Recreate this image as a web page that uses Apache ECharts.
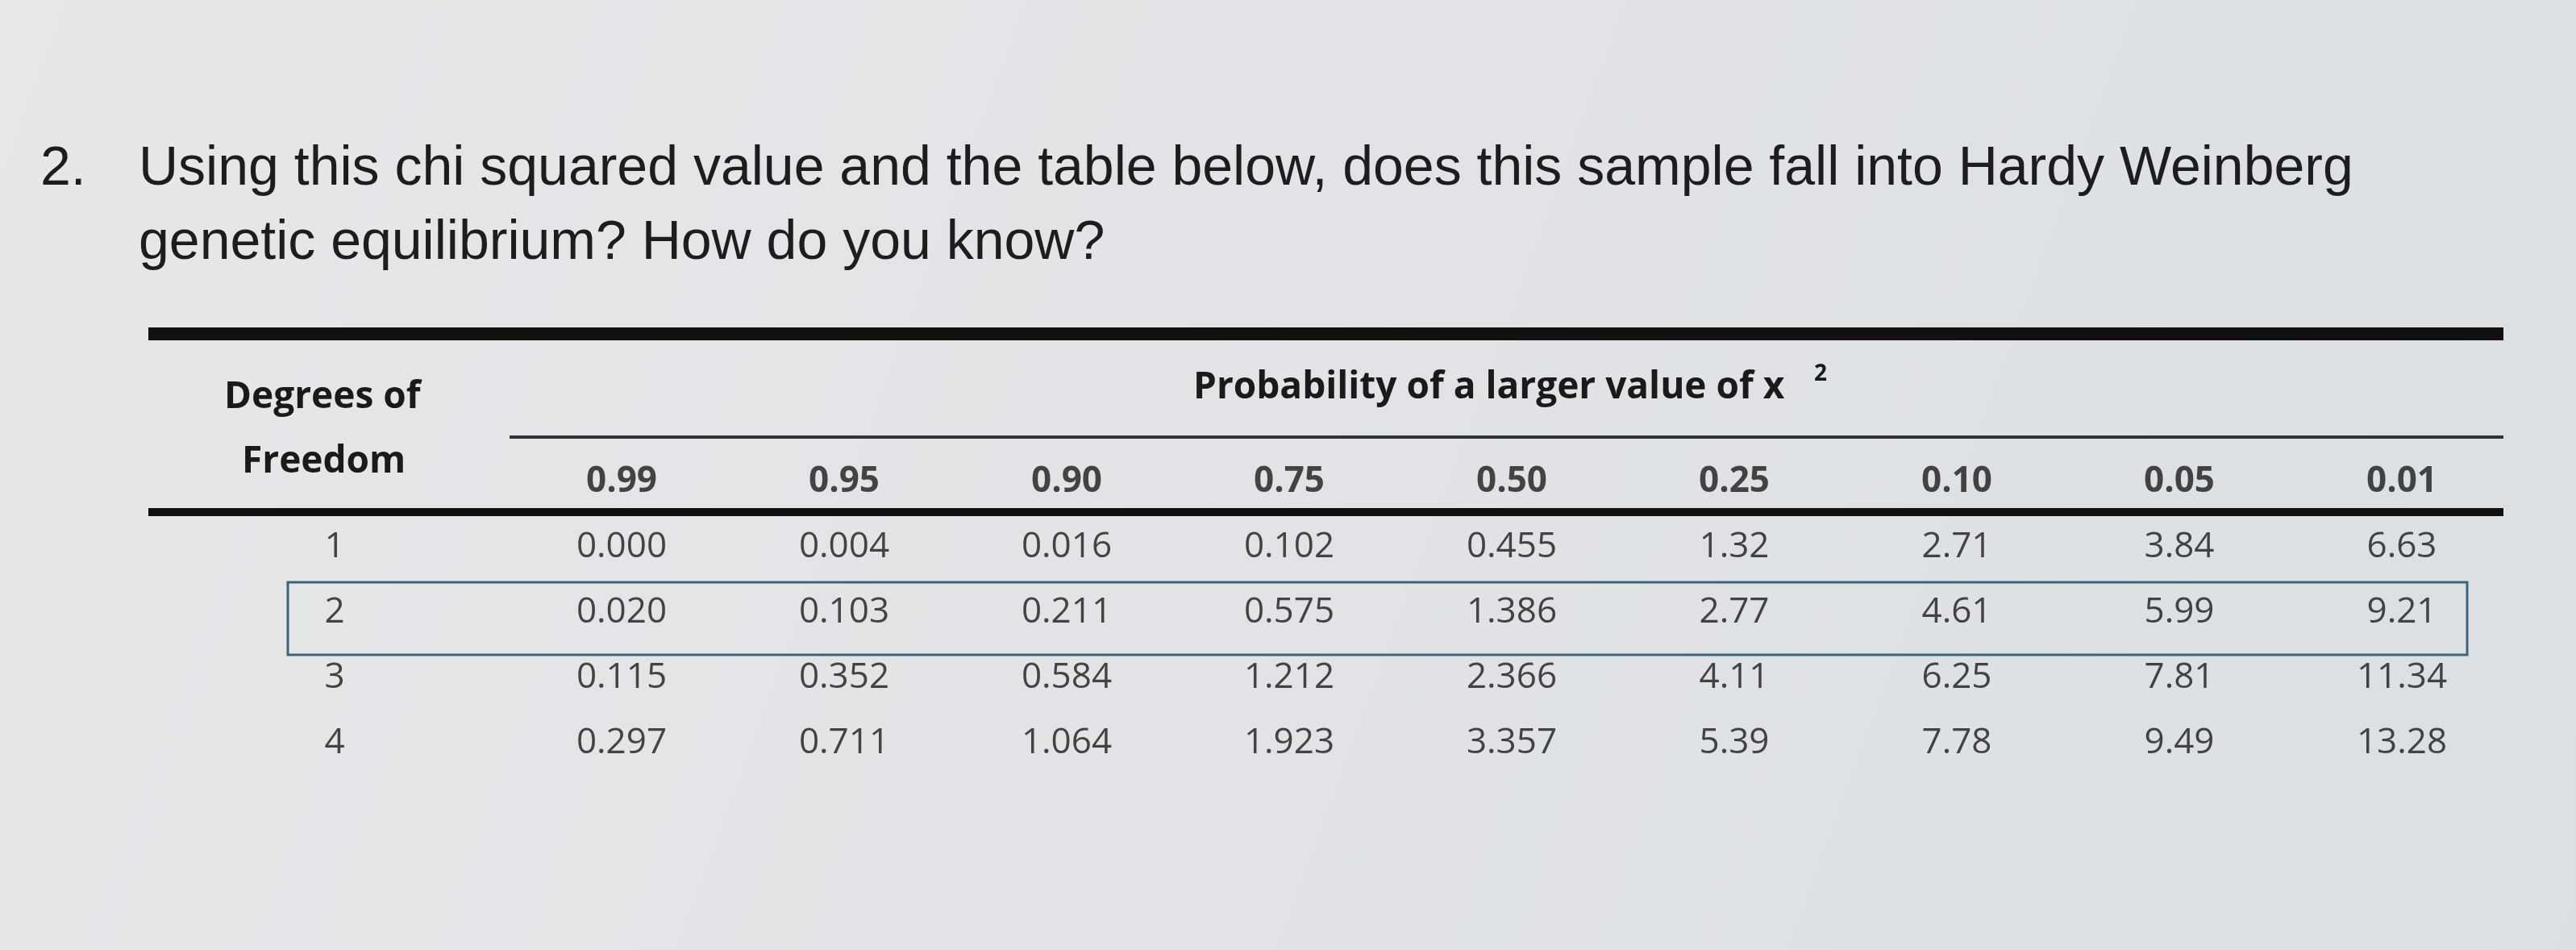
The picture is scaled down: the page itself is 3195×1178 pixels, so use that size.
<!DOCTYPE html>
<html>
<head>
<meta charset="utf-8">
<script src="https://cdn.jsdelivr.net/npm/echarts@6/dist/echarts.min.js"></script>
<style>
html,body{margin:0;padding:0;background:#e3e5e7;}
#chart{width:3195px;height:1178px;}
</style>
</head>
<body>
<div id="chart"></div>
<script>
// 列：自由度 + 概率
var columns = ['df', '0.99', '0.95', '0.90', '0.75', '0.50', '0.25', '0.10', '0.05', '0.01'];
var rows = ['head', '1', '2', '3', '4'];
var row1 = ['0.000', '0.004', '0.016', '0.102', '0.455', '1.32', '2.71', '3.84', '6.63'];
var row2 = ['0.020', '0.103', '0.211', '0.575', '1.386', '2.77', '4.61', '5.99', '9.21'];
var row3 = ['0.115', '0.352', '0.584', '1.212', '2.366', '4.11', '6.25', '7.81', '11.34'];
var row4 = ['0.297', '0.711', '1.064', '1.923', '3.357', '5.39', '7.78', '9.49', '13.28'];
var tableRows = [row1, row2, row3, row4];

var cells = [];
// 表头
for (var i = 1; i < columns.length; i++) {
	cells.push({value: [i, 0, columns[i]], label: {fontWeight: 'bold'}});
}
for (var r = 0; r < tableRows.length; r++) {
	cells.push({value: [0, r + 1, rows[r + 1]], label: {offset: [-80, 0]}});
	for (var c = 0; c < tableRows[r].length; c++) {
		cells.push({value: [c + 1, r + 1, tableRows[r][c]]});
	}
}

var myChart = echarts.init(document.getElementById('chart'));
var font = "'Open Sans', sans-serif";
var qFont = '68px "Liberation Sans", Arial';
var option = {
	backgroundColor: {
		type: 'linear', x: 0, y: 0, x2: 1, y2: 1,
		colorStops: [{offset: 0, color: '#e6e7e9'}, {offset: 1, color: '#dcdfe2'}]
	},
	grid: {left: 357, width: 2760, top: 557, height: 405},
	xAxis: {type: 'category', data: columns, show: false},
	yAxis: {type: 'category', data: rows, inverse: true, show: false},
	graphic: [
		{type: 'text', left: 50, top: 176, style: {text: '2.', font: qFont, fill: '#1d1d1f'}},
		{type: 'text', left: 172, top: 176, style: {text: 'Using this chi squared value and the table below, does this sample fall into Hardy Weinberg', font: qFont, fill: '#1d1d1f'}},
		{type: 'text', left: 172, top: 268, style: {text: 'genetic equilibrium? How do you know?', font: qFont, fill: '#1d1d1f'}},
		{type: 'rect', shape: {x: 184, y: 406, width: 2921, height: 16}, style: {fill: '#111'}},
		{type: 'text', left: 278, top: 470, style: {text: 'Degrees of', font: 'bold 46px ' + font, fill: '#1a1a1a'}},
		{type: 'text', left: 300, top: 550, style: {text: 'Freedom', font: 'bold 46px ' + font, fill: '#1a1a1a'}},
		{type: 'text', left: 1480, top: 458, style: {text: 'Probability of a larger value of x', font: 'bold 46px ' + font, fill: '#1a1a1a'}},
		{type: 'text', left: 2250, top: 450, style: {text: '2', font: 'bold 28px ' + font, fill: '#1a1a1a'}},
		{type: 'rect', shape: {x: 632, y: 540, width: 2473, height: 4}, style: {fill: '#333'}},
		{type: 'rect', shape: {x: 184, y: 630, width: 2921, height: 10}, style: {fill: '#111'}},
		{type: 'rect', shape: {x: 357, y: 722, width: 2703, height: 90}, style: {fill: 'none', stroke: '#3f6378', lineWidth: 3}}
	],
	series: [{
		type: 'scatter',
		symbolSize: 0,
		data: cells,
		label: {
			show: true,
			position: 'inside',
			formatter: function (p) { return p.value[2]; },
			color: '#1a1a1a',
			fontSize: 44,
			fontFamily: font
		}
	}]
};
myChart.setOption(option);
</script>
</body>
</html>
